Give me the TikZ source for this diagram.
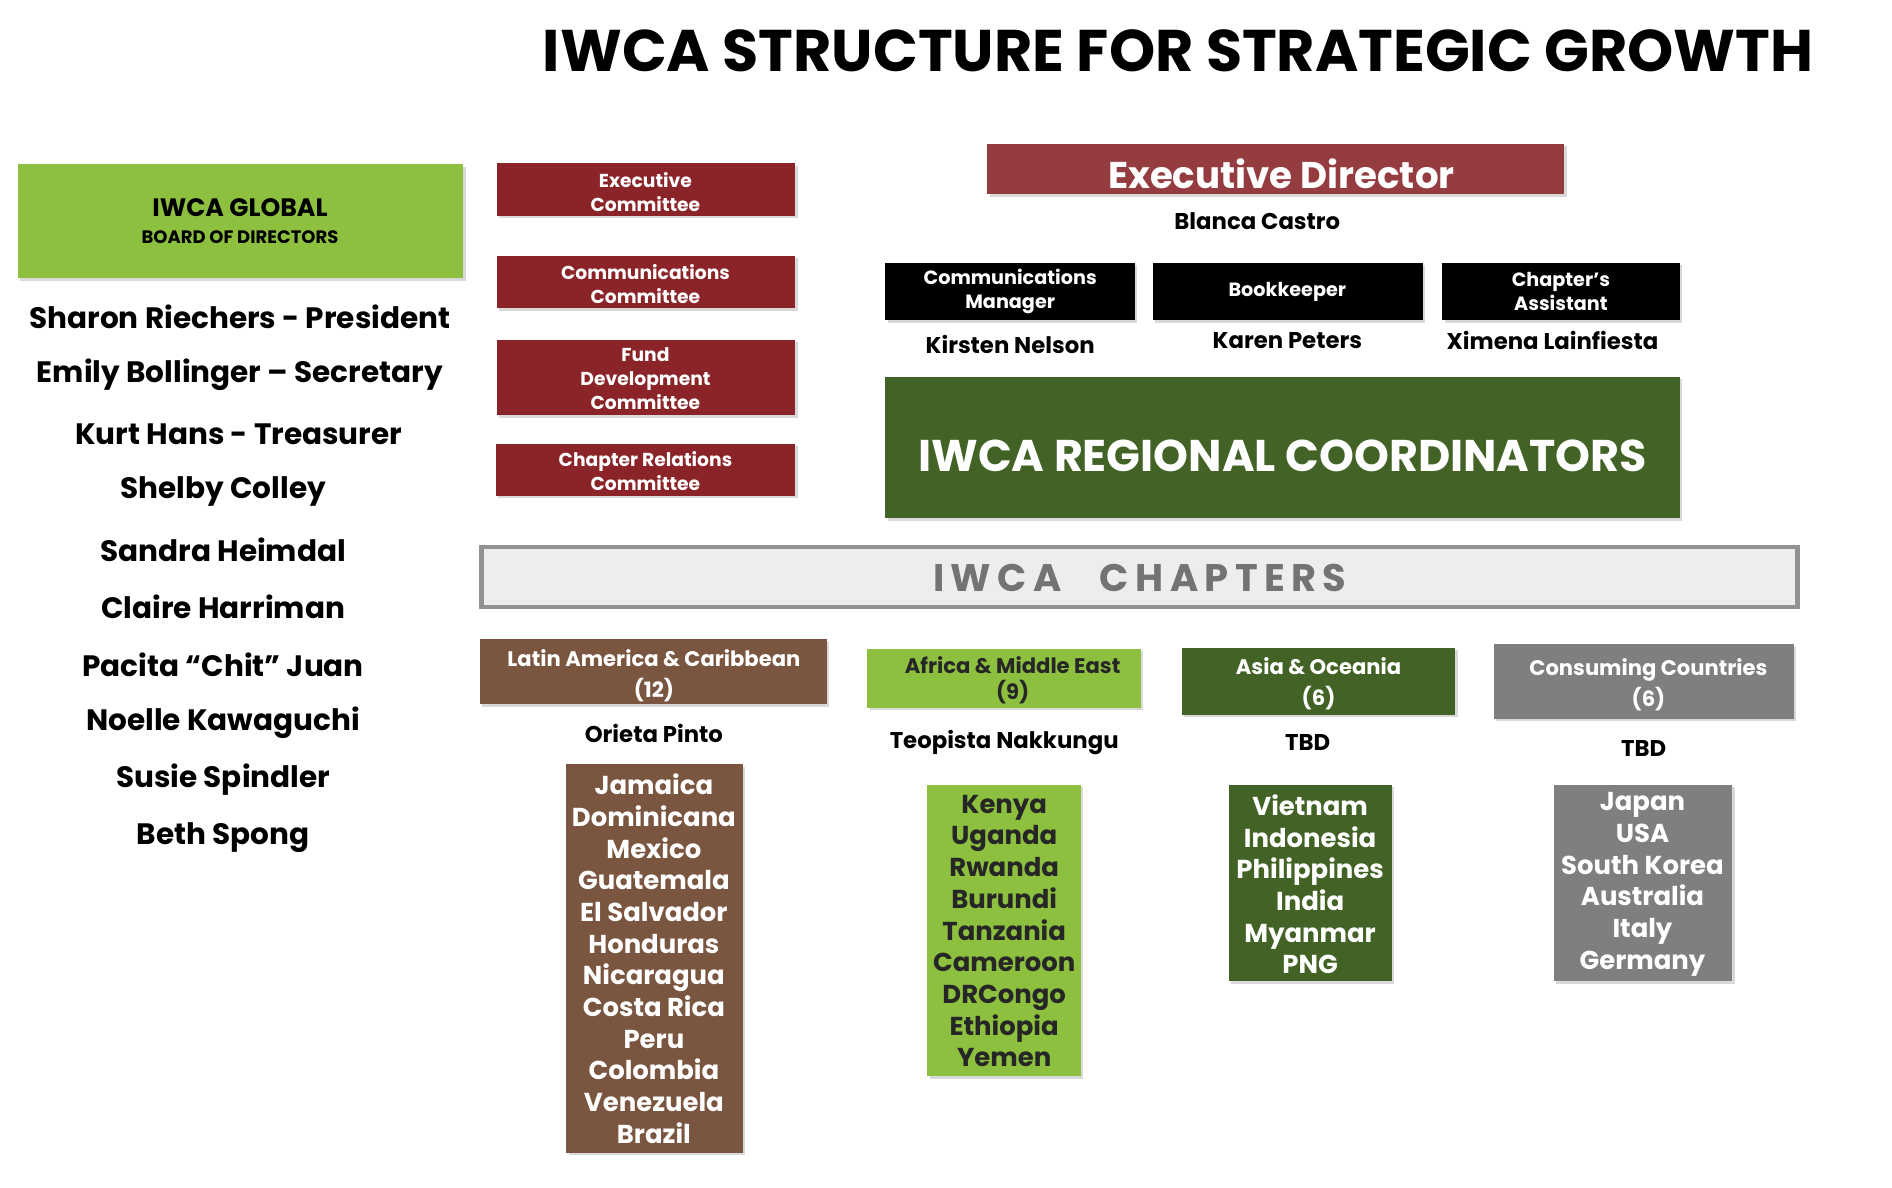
\documentclass[tikz,border=0pt]{standalone}
\usepackage{fontspec}
\setmainfont{Poppins}
\usetikzlibrary{shadows}
\definecolor{bgreen}{HTML}{8DC03F}
\definecolor{dred}{HTML}{8B2428}
\definecolor{edred}{HTML}{943C40}
\definecolor{dgreen}{HTML}{436326}
\definecolor{brownc}{HTML}{7A5640}
\definecolor{greyc}{HTML}{7F7F7F}
\begin{document}
\begin{tikzpicture}[x=0.5pt,y=-0.5pt,
  box/.style={draw=none,drop shadow={shadow xshift=1pt,shadow yshift=-1pt,opacity=0.3}},
  wt/.style={text=white,font=\bfseries,align=center},
  nm/.style={font=\bfseries\fontsize{9.5}{11}\selectfont},
  bd/.style={font=\bfseries\fontsize{12.3}{15}\selectfont,anchor=center},
  lst/.style={text=white,font=\fontsize{10.8}{13.2}\selectfont\bfseries,align=center}]
\useasboundingbox (0,0) rectangle (1577,990);
\node[font=\bfseries\fontsize{24.5}{28}\selectfont] (title) at (982,42) {IWCA STRUCTURE FOR STRATEGIC GROWTH};
% board
\fill[bgreen,box] (15,137) rectangle (386,232);
\node[font=\bfseries\fontsize{10.5}{12}\selectfont] (bg) at (200,173) {IWCA GLOBAL};
\node[font=\bfseries\fontsize{7.5}{9}\selectfont] (bd2) at (200,198) {BOARD OF DIRECTORS};
\node[bd] (n1) at (200,264) {Sharon Riechers - President};
\node[bd] (n2) at (200,312) {Emily Bollinger – Secretary};
\node[bd] (n3) at (199,362) {Kurt Hans - Treasurer};
\node[bd] (n4) at (186,410) {Shelby Colley};
\node[bd] (n5) at (186,458) {Sandra Heimdal};
\node[bd] (n6) at (186,506) {Claire Harriman};
\node[bd] (n7) at (186,554) {Pacita “Chit” Juan};
\node[bd] (n8) at (186,602) {Noelle Kawaguchi};
\node[bd] (n9) at (186,650) {Susie Spindler};
\node[bd] (n10) at (186,698) {Beth Spong};
% committees
\tikzset{cmbox/.style={wt,font=\bfseries\fontsize{7.8}{10}\selectfont}}
\fill[dred,box] (414,136) rectangle (663,180);
\node[cmbox] (c1) at (538,160) {Executive\\Committee};
\fill[dred,box] (414,213) rectangle (663,257);
\node[cmbox] (c2) at (538,237) {Communications\\Committee};
\fill[dred,box] (414,283) rectangle (663,346);
\node[cmbox] (c3) at (538,316) {Fund\\Development\\Committee};
\fill[dred,box] (413,370) rectangle (663,413);
\node[cmbox] (c4) at (538,393) {Chapter Relations\\Committee};
% exec director
\fill[edred,box] (823,120) rectangle (1304,162);
\node[wt,font=\bfseries\fontsize{15.5}{18}\selectfont] (ed) at (1068,145) {Executive Director};
\node[nm] (bc) at (1048,184) {Blanca Castro};
\tikzset{bkbox/.style={wt,font=\bfseries\fontsize{8}{10}\selectfont}}
\fill[black,box] (738,219) rectangle (946,267);
\node[bkbox] (s1) at (842,243) {Communications\\Manager};
\fill[black,box] (961,219) rectangle (1186,267);
\node[bkbox] (s2) at (1073,243) {Bookkeeper};
\fill[black,box] (1202,219) rectangle (1400,267);
\node[bkbox] (s3) at (1301,243) {Chapter’s\\Assistant};
\node[nm] (p1) at (842,287) {Kirsten Nelson};
\node[nm] (p2) at (1073,284) {Karen Peters};
\node[nm] (p3) at (1294,284) {Ximena Lainfiesta};
% regional
\fill[dgreen,box] (738,314) rectangle (1400,432);
\node[wt,font=\bfseries\fontsize{18.5}{22}\selectfont] (rc) at (1069,380) {IWCA REGIONAL COORDINATORS};
% chapters bar
\path[box,fill=black!7] (401,456) rectangle (1498,506);
\draw[line width=2pt,draw=greyc!85] (401,456) rectangle (1498,506);
\node[text=black!55,font=\bfseries\fontsize{16}{18}\selectfont] (ch) at (950,482) {I\,W\,C\,A\quad C\,H\,A\,P\,T\,E\,R\,S};
% regions
\tikzset{rgbox/.style={wt,font=\bfseries\fontsize{8.8}{13}\selectfont}}
\fill[brownc,box] (400,533) rectangle (689,587);
\node[rgbox] (r1) at (545,563) {Latin America \& Caribbean\\(12)};
\fill[bgreen,box] (723,541) rectangle (951,590);
\node[rgbox,text=black!85,font=\bfseries\fontsize{8.8}{11}\selectfont] (r2) at (844,567) {Africa \& Middle East\\(9)};
\fill[dgreen,box] (985,540) rectangle (1213,596);
\node[rgbox] (r3) at (1099,570) {Asia \& Oceania\\(6)};
\fill[greyc,box] (1245,537) rectangle (1495,599);
\node[rgbox] (r4) at (1374,571) {Consuming Countries\\(6)};
\node[nm] (o1) at (545,611) {Orieta Pinto};
\node[nm] (o2) at (837,619) {Teopista Nakkungu};
\node[nm] (o3) at (1090,619) {TBD};
\node[nm] (o4) at (1370,624) {TBD};
% lists
\fill[brownc,box] (472,637) rectangle (619,961);
\node[lst] (l1) at (545,799) {Jamaica\\Dominicana\\Mexico\\Guatemala\\El Salvador\\Honduras\\Nicaragua\\Costa Rica\\Peru\\Colombia\\Venezuela\\Brazil};
\fill[bgreen,box] (773,654) rectangle (901,897);
\node[lst,text=black!85] (l2) at (837,776) {Kenya\\Uganda\\Rwanda\\Burundi\\Tanzania\\Cameroon\\DRCongo\\Ethiopia\\Yemen};
\fill[dgreen,box] (1024,654) rectangle (1160,818);
\node[lst] (l3) at (1092,737) {Vietnam\\Indonesia\\Philippines\\India\\Myanmar\\PNG};
\fill[greyc,box] (1295,654) rectangle (1444,818);
\node[lst] (l4) at (1369,737) {Japan\\USA\\South Korea\\Australia\\Italy\\Germany};
\end{tikzpicture}
\end{document}
